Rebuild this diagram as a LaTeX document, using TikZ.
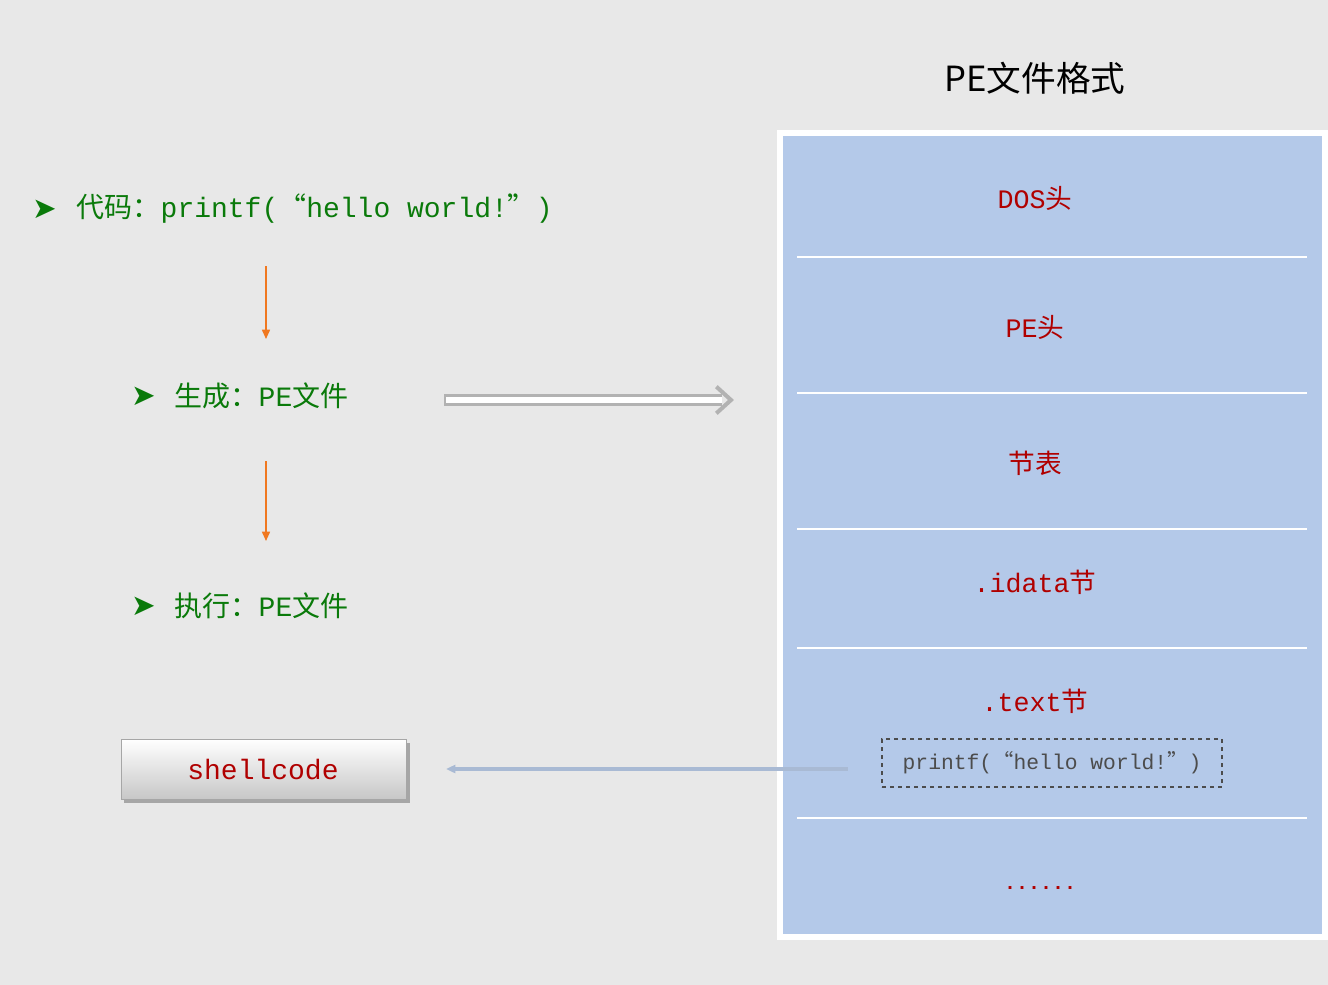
\documentclass[tikz,border=0pt]{standalone}
\usepackage{fontspec}
\newfontfamily\cjk{Noto Sans CJK SC}
\newfontfamily\mono{Liberation Mono}
\newfontfamily\dv{DejaVu Sans}
\newcommand{\lm}[1]{{\mono #1}}
\usetikzlibrary{arrows.meta}
\definecolor{bg}{HTML}{E8E8E8}
\definecolor{panel}{HTML}{B4C9E9}
\definecolor{dred}{HTML}{B00000}
\definecolor{dgreen}{HTML}{0A7A0A}
\definecolor{orng}{HTML}{F07820}
\tikzset{
 x=0.75pt,y=-0.75pt,
 red label/.style={text=dred,font=\cjk\fontsize{20}{24}\selectfont},
 green label/.style={text=dgreen,font=\cjk\fontsize{21}{24}\selectfont,anchor=west},
 bullet/.style={text=dgreen,font=\dv\fontsize{22}{24}\selectfont},
 sep/.style={white,line width=1.2pt},
 down/.style={orng,line width=1.2pt,-{Triangle[length=7pt,width=6pt]}},
}
\begin{document}
\begin{tikzpicture}
\fill[bg] (0,0) rectangle (1328,985);
\useasboundingbox (0,0) rectangle (1328,985);
\node[font=\cjk\fontsize{26}{30}\selectfont] (title) at (1035,78) {PE文件格式};
\fill[white] (777,130) rectangle (1328,940);
\fill[panel] (783,136) rectangle (1322,934);
\foreach \y in {257,393,529,648,818} \draw[sep] (797,\y) -- (1307,\y);
\node[red label] (dos) at (1035,198) {\lm{DOS}头};
\node[red label] (pe) at (1035,327) {\lm{PE}头};
\node[red label] (sec) at (1035,463) {节表};
\node[red label] (idata) at (1035,582) {\lm{.idata}节};
\node[red label] (text) at (1035,701) {\lm{.text}节};
\node[text=dred,font=\mono\bfseries\fontsize{15}{18}\selectfont] (dots) at (1040,888) {......};
\node[draw=black!70,dashed,line width=1.5pt,minimum width=255pt,minimum height=36pt,text=black!70,font=\cjk\fontsize{16}{20}\selectfont] (code) at (1052,763) {\lm{printf(}“\lm{hello world!}”\lm{)}};
\node[bullet] (b1) at (45,209) {➤};
\node[green label] (l1) at (72,209) {代码：\lm{printf(}“\lm{hello world!}”\lm{)}};
\node[bullet] (b2) at (144,396) {➤};
\node[green label] (l2) at (170,396) {生成：\lm{PE}文件};
\node[bullet] (b3) at (144,606) {➤};
\node[green label] (l3) at (170,606) {执行：\lm{PE}文件};
\coordinate (a1s) at (266,266); \coordinate (a1e) at (266,339);
\coordinate (a2s) at (266,461); \coordinate (a2e) at (266,541);
\draw[down] (a1s) -- (a1e);
\draw[down] (a2s) -- (a2e);
\coordinate (ds) at (444,400); \coordinate (de) at (731,400);
\draw[black!30,line width=9pt] (ds) -- ([xshift=-7pt]de);
\draw[white,line width=4.5pt] ([xshift=1.5pt]ds) -- ([xshift=-7pt]de);
\draw[black!30,line width=3pt,line join=miter] ([xshift=-11pt,yshift=10pt]de) -- (de) -- ([xshift=-11pt,yshift=-10pt]de);
\fill[black!35] (124,743) rectangle (410,803);
\shade[top color=white,bottom color=black!22,draw=black!35] (121,739) rectangle (406,799);
\node[text=dred,font=\mono\fontsize{21}{24}\selectfont] (sc) at (263,770) {shellcode};
\coordinate (arr) at (848,769);
\draw[{Triangle[length=7pt,width=6pt]}-,color=panel!80!gray,line width=2.5pt] (446,769) -- (arr);
\end{tikzpicture}
\end{document}
